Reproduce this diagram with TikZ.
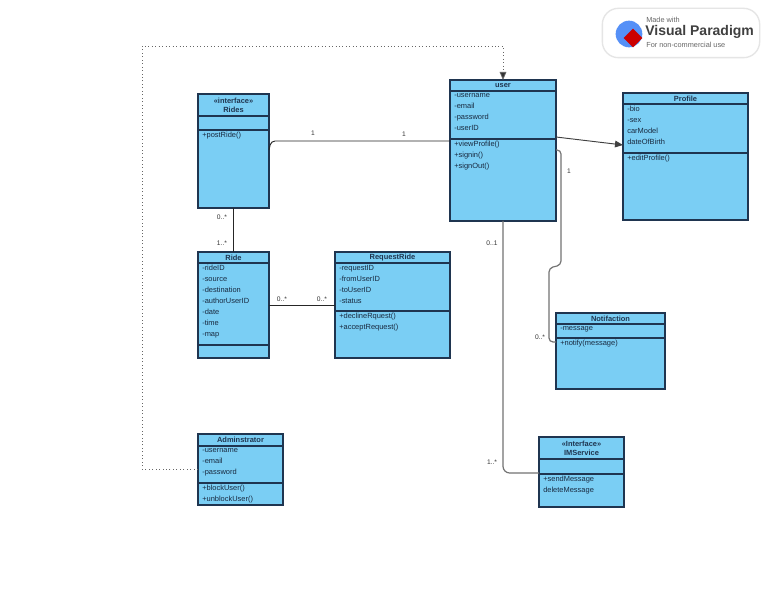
\documentclass[tikz,border=0pt]{standalone}
\usepackage{fontspec}
\setmainfont{Liberation Sans}
\usetikzlibrary{arrows.meta}
\definecolor{cfill}{HTML}{7ACEF4}
\definecolor{cline}{HTML}{1F3550}
\tikzset{
  cls/.style={draw=cline,fill=cfill,line width=0.8pt,inner sep=0,outer sep=0,anchor=north west},
  sep/.style={draw=cline,line width=0.8pt},
  ttl/.style={font=\fontsize{5.6}{6.6}\selectfont\bfseries,align=center,text=cline,inner sep=0},
  itm/.style={font=\fontsize{5.6}{8.2}\selectfont,align=left,anchor=north west,text=cline!80!black,inner sep=0},
  lbl/.style={font=\fontsize{5}{6}\selectfont,text=black!80,inner sep=0},
  assoc/.style={draw=black!85,line width=0.7pt,rounded corners=3pt},
  gassoc/.style={draw=black!55,line width=0.9pt,rounded corners=3pt},
}
\newcommand\umlbox[5]{\node[cls,minimum width={(#4-#2)*0.75pt},minimum height={(#5-#3)*0.75pt}] (#1) at (#2,#3) {};}
\begin{document}
\begin{tikzpicture}[x=0.75pt,y=-0.75pt]
\useasboundingbox (0,0) rectangle (768,595);
\fill[white] (0,0) rectangle (768,595);
% logo
\node[draw=black!10,fill=white,rounded corners=12pt,minimum width=118pt,minimum height=37pt,line width=1pt] (logo) at (681,33) {};
\node[circle,fill=cfill!70!blue,minimum size=20pt,inner sep=0] (globe) at (629,34) {};
\node[fill=red!80!black,rotate=45,minimum size=10pt,inner sep=0] (vpmark) at (633,38) {};
\node[font=\fontsize{5.5}{6}\selectfont,text=black!60,anchor=west,inner sep=0] (made) at (646,20) {Made with};
\node[font=\fontsize{10.5}{12}\selectfont\bfseries,text=black!75,anchor=west,inner sep=0] (vp) at (645,32) {Visual Paradigm};
\node[font=\fontsize{5.5}{6}\selectfont,text=black!60,anchor=west,inner sep=0] (nc) at (646,45) {For non-commercial use};

% Rides
\umlbox{rides}{198}{94}{269}{208}
\draw[sep] (198,116)--(269,116) (198,130)--(269,130);
\node[ttl] (ridesT) at (233.5,105) {<<interface>>\\Rides};
\node[itm] (ridesM) at (202,132) {+postRide()};
% user
\umlbox{user}{450}{80}{556}{221}
\draw[sep] (450,91)--(556,91) (450,139)--(556,139);
\node[ttl] (userT) at (503,85.5) {user};
\node[itm] (userA) at (454,93) {-username\\-email\\-password\\-userID};
\node[itm] (userM) at (454,141) {+viewProfile()\\+signin()\\+signOut()};
% Profile
\umlbox{profile}{623}{93}{748}{220}
\draw[sep] (623,104)--(748,104) (623,153)--(748,153);
\node[ttl] (profT) at (685.5,98.5) {Profile};
\node[itm] (profA) at (627,106) {-bio\\-sex\\carModel\\dateOfBirth};
\node[itm] (profM) at (627,155) {+editProfile()};
% Ride
\umlbox{ride}{198}{252}{269}{358}
\draw[sep] (198,263)--(269,263) (198,345)--(269,345);
\node[ttl] (rideT) at (233.5,257.5) {Ride};
\node[itm] (rideA) at (202,265) {-rideID\\-source\\-destination\\-authorUserID\\-date\\-time\\-map};
% RequestRide
\umlbox{req}{335}{252}{450}{358}
\draw[sep] (335,263)--(450,263) (335,311)--(450,311);
\node[ttl] (reqT) at (392.5,257.5) {RequestRide};
\node[itm] (reqA) at (339,265) {-requestID\\-fromUserID\\-toUserID\\-status};
\node[itm] (reqM) at (339,313) {+declineRquest()\\+acceptRequest()};
% Notifaction
\umlbox{notif}{556}{313}{665}{389}
\draw[sep] (556,324)--(665,324) (556,338)--(665,338);
\node[ttl] (notT) at (610.5,318.5) {Notifaction};
\node[itm] (notA) at (560,326) {-message};
\node[itm] (notM) at (560,340) {+notify(message)};
% IMService
\umlbox{ims}{539}{437}{624}{507}
\draw[sep] (539,459)--(624,459) (539,474)--(624,474);
\node[ttl] (imsT) at (581.5,448) {<<Interface>>\\IMService};
\node[itm] (imsM) at (543,476) {+sendMessage\\deleteMessage};
% Adminstrator
\umlbox{admin}{198}{434}{283}{505}
\draw[sep] (198,446)--(283,446) (198,483)--(283,483);
\node[ttl] (admT) at (240.5,440) {Adminstrator};
\node[itm] (admA) at (202,448) {-username\\-email\\-password};
\node[itm] (admM) at (202,485) {+blockUser()\\+unblockUser()};

% connectors
\coordinate (rs) at (rides.east |- 0,150);
\coordinate (ue) at (user.west |- 0,141);
\draw[assoc] (rs) -- (271,141) -- (ue);
\node[lbl] (l1) at (313,133) {1};
\node[lbl] (l2) at (404,134) {1};

\draw[assoc] (rides.south -| 233,0) -- (ride.north -| 233,0);
\node[lbl] (l3) at (222,217) {0..*};
\node[lbl] (l4) at (222,243) {1..*};

\draw[assoc] (ride.east |- 0,305) -- (req.west |- 0,305);
\node[lbl] (l5) at (282,299) {0..*};
\node[lbl] (l6) at (322,299) {0..*};

\draw[draw=black!75,line width=0.7pt,-{Triangle[length=6pt,width=5pt]}] (user.east |- 0,137) -- (profile.west |- 0,145);

\draw[gassoc] (user.east |- 0,150) -- (561,150) -- (561,265) -- (549,268) -- (549,342) -- (notif.west |- 0,342);
\node[lbl] (l7) at (569,171) {1};
\node[lbl] (l8) at (540,337) {0..*};

\draw[gassoc,rounded corners=5pt] (user.south -| 503,0) -- (503,473) -- (ims.west |- 0,473);
\node[lbl] (l9) at (492,243) {0..1};
\node[lbl] (l10) at (492,462) {1..*};

\draw[draw=black!60,line width=0.6pt,dotted,-{Triangle[length=6pt,width=5pt,fill=black!80]}] (admin.west |- 0,469) -- (142,469) -- (142,46) -- (503,46) -- (user.north -| 503,0);
\end{tikzpicture}
\end{document}
